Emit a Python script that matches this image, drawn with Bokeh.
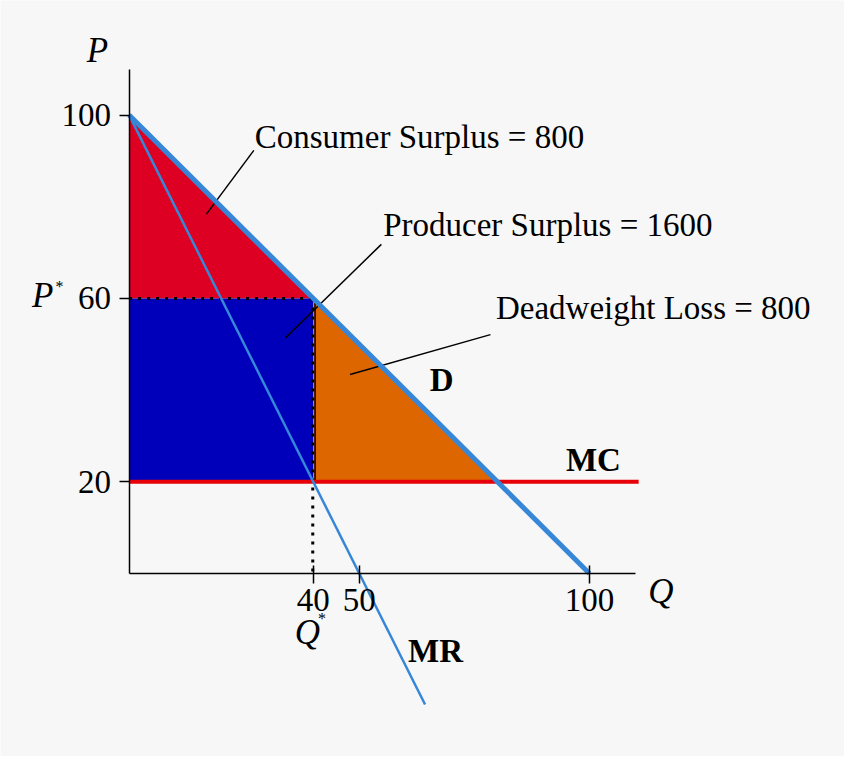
from bokeh.plotting import figure
from bokeh.models import LinearAxis, FixedTicker, Range1d
from bokeh.core.properties import value
from bokeh.embed import file_html
from bokeh.resources import INLINE

# ---------------- data ----------------
demand_q = [0, 100]
demand_p = [100, 0]
mr_q = [0, 64.3]
mr_p = [100, -28.6]
mc_q = [0, 110.7]
mc_p = [20, 20]

q_star = 40
p_star = 60

cs_q = [0, 40, 0]
cs_p = [100, 60, 60]
ps_q = [0, 40, 40, 0]
ps_p = [20, 20, 60, 60]
dwl_q = [40, 80, 40]
dwl_p = [60, 20, 20]

x_ticks = [40, 50, 100]
y_ticks = [20, 60, 100]

area_labels = ["Consumer Surplus = 800", "Producer Surplus = 1600", "Deadweight Loss = 800"]
curve_labels = ["D", "MC", "MR"]

# ---------------- layout constants ----------------
W, H = 844, 756
SX, SY = 4.603, 4.583          # px per data unit
X0, Y0 = 128.6, 572.9           # px position of the origin
BG = "#f7f7f7"
SERIF = "Liberation Serif"


def lift(px):
    """baseline correction, px -> data units"""
    return px / SY


p = figure(width=W, height=H, output_backend="svg", toolbar_location=None,
           x_axis_location=None, y_axis_location=None,
           x_range=Range1d(-X0 / SX, (W - X0) / SX),
           y_range=Range1d(-(H - Y0) / SY, Y0 / SY),
           min_border=0, outline_line_color=None,
           background_fill_color=BG, border_fill_color=BG)
p.grid.visible = False

# areas
p.patch(cs_q, cs_p, fill_color="#dd0022", line_color=None)
p.patch(ps_q, ps_p, fill_color="#0000bb", line_color=None)
p.patch(dwl_q, dwl_p, fill_color="#dd6600", line_color=None)

# thin edge on orange
p.line([q_star + 0.4, q_star + 0.4], [20, p_star], line_color="black", line_width=1.5)

# dotted guides
p.line([0, q_star], [p_star, p_star], line_color="black", line_width=3, line_dash="3 6")
p.line([q_star - 0.1, q_star - 0.1], [p_star, 0], line_color="black", line_width=3, line_dash="3 6")

# leader lines
p.segment(x0=[27.1, 54.8, 78.5], y0=[92.3, 71.8, 52.1],
          x1=[16.8, 33.9, 48.0], y1=[78.4, 51.3, 43.4],
          line_color="black", line_width=1.5)

# curves
p.line(mc_q, mc_p, line_color="#e60008", line_width=4)
p.line(mr_q, mr_p, line_color="#3787d8", line_width=2.5)
p.line(demand_q, demand_p, line_color="#3787d8", line_width=5)

# axes
xa = LinearAxis(fixed_location=0, bounds=(0, 110), ticker=FixedTicker(ticks=x_ticks),
                major_tick_in=8, major_tick_out=10, minor_tick_line_color=None,
                axis_line_width=1.5, major_tick_line_width=1.5,
                axis_line_color="black", major_tick_line_color="black",
                major_label_text_font=SERIF, major_label_text_font_size="33px",
                major_label_text_color="black", major_label_standoff=6)
ya = LinearAxis(fixed_location=0, bounds=(0, 110), ticker=FixedTicker(ticks=y_ticks),
                major_tick_in=0, major_tick_out=10, minor_tick_line_color=None,
                axis_line_width=1.5, major_tick_line_width=1.5,
                axis_line_color="black", major_tick_line_color="black",
                major_label_text_font=SERIF, major_label_text_font_size="33px",
                major_label_text_color="black", major_label_standoff=8)
p.add_layout(xa, "below")
p.add_layout(ya, "left")

# annotations (y = intended baseline + correction)
fix33 = lift(12.6)
fix35 = lift(13.3)
fix16 = lift(8)
p.text(x=[27.3, 55.2, 79.7], y=[92.5 + fix33, 73.3 + fix33, 55.1 + fix33], text=area_labels,
       text_font=value(SERIF), text_font_size=value("33px"), text_color="black",
       text_align="left", text_baseline="alphabetic")
p.text(x=[65.3, 94.9, 60.6], y=[39.5 + fix33, 22.0 + fix33, -19.7 + fix33], text=curve_labels,
       text_font=value(SERIF), text_font_size=value("33px"), text_font_style="bold",
       text_color="black", text_align="left", text_baseline="alphabetic")
p.text(x=[-9.2, 112.8, -21.1, 36.0],
       y=[111.1 + fix35, -6.8 + fix35, 57.7 + fix35, -15.8 + fix35],
       text=["P", "Q", "P", "Q"],
       text_font=value(SERIF), text_font_size=value("35px"), text_font_style="italic",
       text_color="black", text_align="left", text_baseline="alphabetic")
p.text(x=[-15.1, 41.9], y=[60.9 + fix16, -11.5 + fix16], text=["*", "*"],
       text_font=value(SERIF), text_font_size=value("16px"),
       text_color="black", text_align="center", text_baseline="alphabetic")

open("out.html", "w").write(file_html(p, INLINE))
